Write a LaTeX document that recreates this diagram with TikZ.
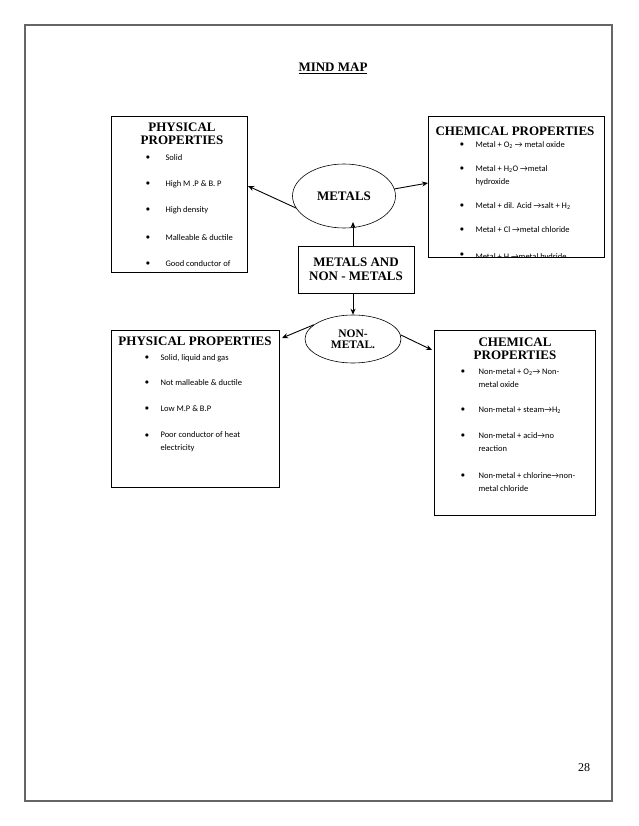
\documentclass[tikz,border=0pt]{standalone}
\usepackage{fontspec}
\setmainfont{Liberation Serif}
\newfontfamily\bodyf{Carlito}
\usetikzlibrary{shapes.geometric,arrows.meta}
\begin{document}
\begin{tikzpicture}[x=1pt,y=-1pt,
  box/.style={draw,line width=0.6pt},
  head/.style={font=\bfseries\fontsize{13}{13.5}\selectfont,align=center},
  bl/.style={font=\bodyf\fontsize{8.5}{13}\selectfont,anchor=west,align=left},
  dot/.style={font=\fontsize{8}{9}\selectfont,anchor=center},
  arr/.style={-{Stealth[length=6pt,width=5pt]},line width=0.9pt}]
\useasboundingbox (0,0) rectangle (638,826);
\fill[white] (0,0) rectangle (638,826);
\draw[gray!80!black,line width=1.6pt] (25,25) rectangle (612,801);
\node[font=\bfseries\fontsize{13}{13}\selectfont] (title) at (333,68) {\underline{MIND MAP}};
\node[font=\fontsize{12}{12}\selectfont] (pg) at (584,768) {28};
% left physical
\draw[box] (111,116) rectangle (247,272);
\node[head] (pp1) at (182,134) {PHYSICAL\\PROPERTIES};
\foreach \t/\y [count=\i] in {Solid/158,High M .P \& B. P/184,High density/210,Malleable \& ductile/238,Good conductor of/264}{
  \node[dot] (d1\i) at (148,\y) {$\bullet$};
  \node[bl] (t1\i) at (162,\y) {\t};}
% chemical metals
\draw[box] (428,116) rectangle (604,257);
\node[head] (cp1) at (515,131) {CHEMICAL PROPERTIES};
\begin{scope}
\clip (428,116) rectangle (604,256);
\node[dot] (d21) at (462,145) {$\bullet$};
\node[bl] (t21) at (472,145) {Metal + O\textsubscript{2} → metal oxide};
\node[dot] (d22) at (462,169) {$\bullet$};
\node[bl] (t22) at (472,176) {Metal + H\textsubscript{2}O →metal\\hydroxide};
\node[dot] (d23) at (462,206) {$\bullet$};
\node[bl] (t23) at (472,206) {Metal + dil. Acid →salt + H\textsubscript{2}};
\node[dot] (d24) at (462,230) {$\bullet$};
\node[bl] (t24) at (472,230) {Metal + Cl →metal chloride};
\node[dot] (d25) at (462,255) {$\bullet$};
\node[bl] (t25) at (472,257) {Metal + H →metal hydride};
\end{scope}
% center
\node[draw,ellipse,minimum width=103pt,minimum height=64pt,line width=0.6pt,head] (met) at (344,196) {METALS};
\node[box,minimum width=116pt,minimum height=47pt,head,align=center,inner sep=1pt] (mnm) at (356,269.5) {METALS AND\\NON - METALS};
\node[draw,ellipse,minimum width=96pt,minimum height=48pt,line width=0.6pt,head,font=\bfseries\fontsize{11.5}{11}\selectfont] (nm) at (353,339) {NON-\\METAL.};
% left physical 2
\draw[box] (111,330) rectangle (279,487);
\node[head] (pp2) at (195,341) {PHYSICAL PROPERTIES};
\foreach \t/\y [count=\i] in {{Solid, liquid and gas}/358,Not malleable \& ductile/383,Low  M.P \& B.P/409}{
  \node[dot] (d3\i) at (147,\y) {$\bullet$};
  \node[bl] (t3\i) at (157,\y) {\t};}
\node[dot] (d34) at (147,436) {$\bullet$};
\node[bl] (t34) at (157,442) {Poor conductor of heat\\electricity};
% chemical non-metals
\draw[box] (434,330) rectangle (595,515);
\node[head] (cp2) at (515,349) {CHEMICAL\\PROPERTIES};
\node[dot] (d41) at (463,372) {$\bullet$};
\node[bl] (t41) at (475,378) {Non-metal + O\textsubscript{2}→ Non-\\metal oxide};
\node[dot] (d42) at (463,410) {$\bullet$};
\node[bl] (t42) at (475,410) {Non-metal + steam→H\textsubscript{2}};
\node[dot] (d43) at (463,436) {$\bullet$};
\node[bl] (t43) at (475,442) {Non-metal + acid→no\\reaction};
\node[dot] (d44) at (463,476) {$\bullet$};
\node[bl] (t44) at (475,482) {Non-metal + chlorine→non-\\metal chloride};
% arrows
\coordinate (a1) at (248,186); \coordinate (a2) at (428,183);
\coordinate (a3) at (282,338); \coordinate (a4) at (432,350);
\coordinate (up1) at (353,246); \coordinate (up2) at (353,222);
\draw[arr] (met.194) -- (a1);
\draw[arr] (met.8) -- (a2);
\draw[arr] (up1) -- (up2);
\draw[arr] (mnm.south -| nm.north) -- (nm.north);
\draw[arr] (nm.160) -- (a3);
\draw[arr] (nm.5) -- (a4);
\end{tikzpicture}
\end{document}
